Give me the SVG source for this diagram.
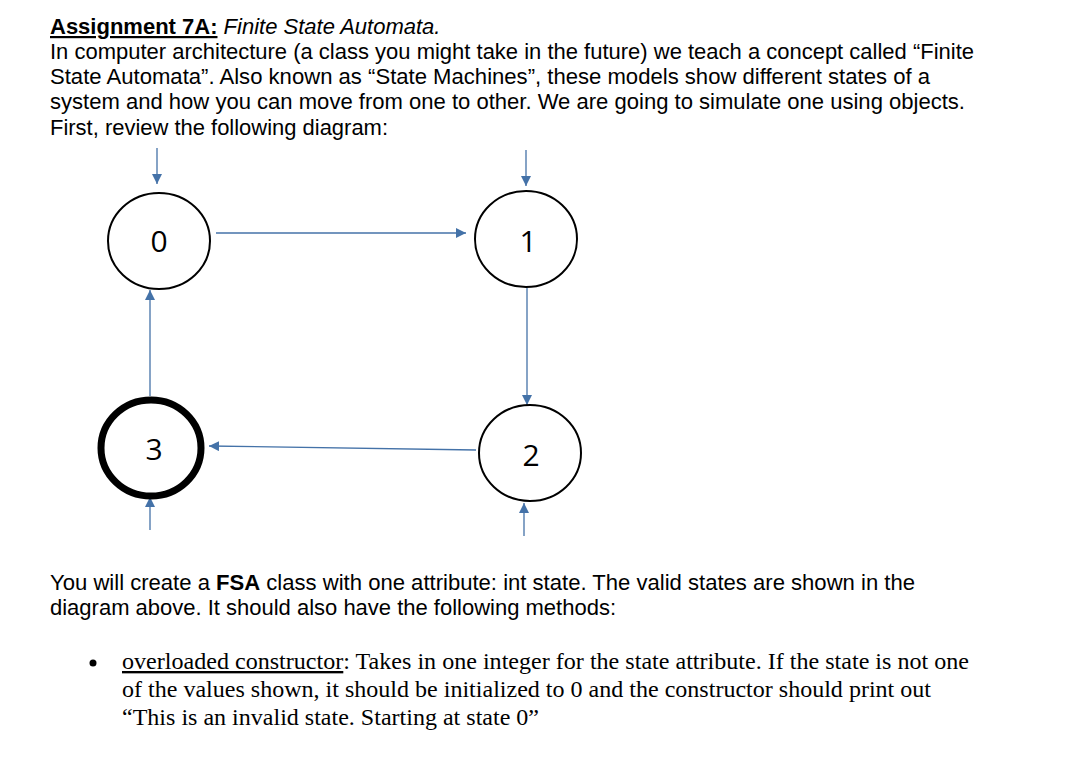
<svg xmlns="http://www.w3.org/2000/svg" width="1080" height="782" viewBox="0 0 1080 782">
<style>
.t{font-family:"Liberation Sans",Arial,sans-serif;font-size:22px;fill:#000}
.s{font-family:"Liberation Serif","Times New Roman",serif;font-size:23.5px;fill:#000}
.n{fill:#fff;stroke:#000;stroke-width:2}
.thick{stroke-width:7}
.lbl{font-family:"Open Sans","Liberation Sans",sans-serif;font-size:30px;text-anchor:middle;fill:#000}
.c{stroke:#4472a8;stroke-width:1.3;fill:none;marker-end:url(#a)}
</style>
<defs><marker id="a" viewBox="0 0 10 10" refX="10" refY="5" markerWidth="10" markerHeight="10" markerUnits="userSpaceOnUse" orient="auto"><path d="M0,0L10,5L0,10z" fill="#4472a8"/></marker></defs>
<rect width="1080" height="782" fill="#fff"/>
<text class="t" x="50" y="34"><tspan font-weight="bold" text-decoration="underline">Assignment 7A:</tspan> <tspan font-style="italic">Finite State Automata.</tspan></text>
<text class="t" x="50" y="59" textLength="924" lengthAdjust="spacingAndGlyphs">In computer architecture (a class you might take in the future) we teach a concept called “Finite</text>
<text class="t" x="50" y="84" textLength="880" lengthAdjust="spacingAndGlyphs">State Automata”. Also known as “State Machines”, these models show different states of a</text>
<text class="t" x="50" y="109" textLength="915" lengthAdjust="spacingAndGlyphs">system and how you can move from one to other. We are going to simulate one using objects.</text>
<text class="t" x="50" y="135" textLength="338" lengthAdjust="spacingAndGlyphs">First, review the following diagram:</text>
<g id="connectors">
<line class="c" x1="157" y1="148" x2="157" y2="184"/>
<line class="c" x1="526" y1="150" x2="526" y2="186"/>
<line class="c" x1="216" y1="233" x2="466" y2="233"/>
<line class="c" x1="527" y1="288" x2="527" y2="405"/>
<line class="c" x1="476" y1="450" x2="209" y2="446"/>
<line class="c" x1="150" y1="396" x2="150" y2="290"/>
<line class="c" x1="150" y1="530" x2="150" y2="497"/>
<line class="c" x1="524" y1="536" x2="524" y2="503"/>
</g>
<g id="n0"><ellipse class="n" cx="159" cy="241" rx="51" ry="48"/><text class="lbl" x="159" y="252">0</text></g>
<g id="n1"><ellipse class="n" cx="526" cy="239" rx="51" ry="48"/><text class="lbl" x="528" y="252">1</text></g>
<g id="n2"><ellipse class="n" cx="530" cy="453" rx="51" ry="48"/><text class="lbl" x="531" y="466">2</text></g>
<g id="n3"><ellipse class="n thick" cx="151" cy="448" rx="50" ry="48"/><text class="lbl" x="154" y="460">3</text></g>
<text class="t" x="50" y="590" textLength="865" lengthAdjust="spacingAndGlyphs">You will create a <tspan font-weight="bold">FSA</tspan> class with one attribute: int state. The valid states are shown in the</text>
<text class="t" x="50" y="615" textLength="566" lengthAdjust="spacingAndGlyphs">diagram above. It should also have the following methods:</text>
<circle cx="93" cy="663" r="3.5" fill="#000"/>
<text class="s" x="122" y="669" textLength="847" lengthAdjust="spacingAndGlyphs"><tspan text-decoration="underline">overloaded constructor</tspan>: Takes in one integer for the state attribute. If the state is not one</text>
<text class="s" x="122" y="697" textLength="809" lengthAdjust="spacingAndGlyphs">of the values shown, it should be initialized to 0 and the constructor should print out</text>
<text class="s" x="122" y="725" textLength="417" lengthAdjust="spacingAndGlyphs">“This is an invalid state. Starting at state 0”</text>
</svg>
